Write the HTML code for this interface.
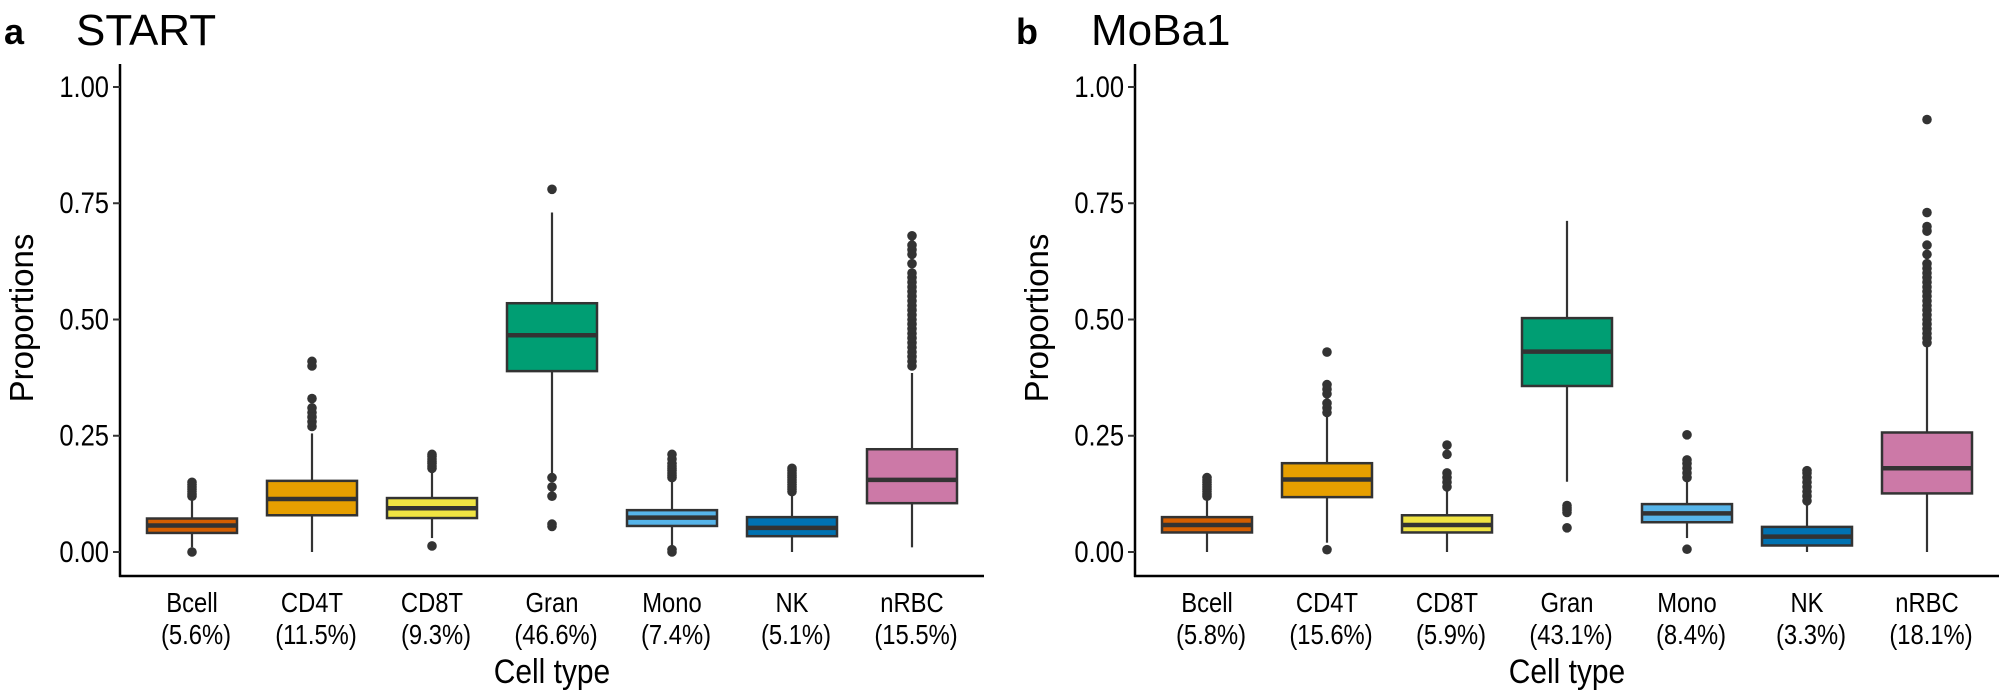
<!DOCTYPE html>
<html><head><meta charset="utf-8"><style>
html,body{margin:0;padding:0;background:#fff;}
svg{display:block;font-family:"Liberation Sans",sans-serif;}
</style></head><body>
<svg id="chart" width="1999" height="693" viewBox="0 0 1999 693">
<text x="4" y="44" font-size="36" font-weight="bold">a</text>
<text x="76" y="45" font-size="44">START</text>
<text x="1016" y="44" font-size="36" font-weight="bold">b</text>
<text x="1091" y="45" font-size="44">MoBa1</text>
</svg>
<script>
const categories = ["Bcell","CD4T","CD8T","Gran","Mono","NK","nRBC"];
const colors = ["#D55E00","#E69F00","#F0E442","#009E73","#56B4E9","#0072B2","#CC79A7"];
const yTicks = [0,0.25,0.5,0.75,1.0];
const yTickLabels = ["0.00","0.25","0.50","0.75","1.00"];
const startPct = ["5.6%","11.5%","9.3%","46.6%","7.4%","5.1%","15.5%"];
const startQ1 = [0.041,0.079,0.073,0.389,0.056,0.034,0.105];
const startMed = [0.057,0.114,0.094,0.466,0.074,0.052,0.155];
const startQ3 = [0.072,0.153,0.116,0.535,0.090,0.075,0.221];
const startLo = [0.01,0.0,0.03,0.17,0.012,0.0,0.01];
const startHi = [0.119,0.255,0.176,0.73,0.155,0.125,0.385];
const startOut = [
 [0.0,0.12,0.125,0.13,0.135,0.14,0.145,0.15],
 [0.27,0.28,0.29,0.30,0.31,0.33,0.40,0.41],
 [0.013,0.18,0.185,0.19,0.195,0.20,0.205,0.21],
 [0.055,0.06,0.12,0.14,0.16,0.78],
 [0.0,0.005,0.16,0.165,0.17,0.175,0.18,0.185,0.19,0.2,0.21],
 [0.13,0.135,0.14,0.145,0.15,0.155,0.16,0.165,0.17,0.175,0.18],
 [0.40,0.41,0.42,0.43,0.44,0.45,0.46,0.47,0.48,0.49,0.50,0.51,0.52,0.53,0.54,0.55,0.56,0.57,0.58,0.59,0.60,0.62,0.64,0.65,0.66,0.68]
];
const mobaPct = ["5.8%","15.6%","5.9%","43.1%","8.4%","3.3%","18.1%"];
const mobaQ1 = [0.042,0.118,0.042,0.357,0.064,0.014,0.126];
const mobaMed = [0.058,0.156,0.058,0.431,0.083,0.033,0.18];
const mobaQ3 = [0.075,0.191,0.079,0.503,0.103,0.054,0.257];
const mobaLo = [0.0,0.02,0.0,0.151,0.03,0.0,0.0];
const mobaHi = [0.115,0.295,0.137,0.712,0.155,0.105,0.449];
const mobaOut = [
 [0.12,0.125,0.13,0.135,0.14,0.145,0.15,0.155,0.16],
 [0.005,0.30,0.31,0.32,0.34,0.35,0.36,0.43],
 [0.14,0.15,0.16,0.17,0.21,0.23],
 [0.052,0.085,0.09,0.095,0.10],
 [0.006,0.16,0.17,0.18,0.19,0.198,0.252],
 [0.11,0.12,0.13,0.14,0.15,0.16,0.17,0.175],
 [0.45,0.46,0.47,0.48,0.49,0.50,0.51,0.52,0.53,0.54,0.55,0.56,0.57,0.58,0.59,0.60,0.61,0.62,0.64,0.66,0.69,0.70,0.73,0.93]
];
const svg = document.getElementById('chart');
const NS = "http://www.w3.org/2000/svg";
function mk(tag, attrs, parent){const e=document.createElementNS(NS,tag);for(const k in attrs)e.setAttribute(k,attrs[k]);(parent||svg).appendChild(e);return e;}
function yScale(v){return 552 - v*465;}
function drawPanel(id, ax, pct, q1, med, q3, lo, hi, out){
  const g = mk('g',{});
  
  
  const xScale = i => ax + 72 + i*120;
  const yl = mk('line',{x1:ax,y1:64,x2:ax,y2:577,stroke:'#000','stroke-width':2.5},g);
  
  
  const xl = mk('line',{x1:ax-1,y1:576,x2:ax+864,y2:576,stroke:'#000','stroke-width':2.5},g);
  
  
  yTicks.forEach((t,i)=>{
    mk('line',{x1:ax-7,y1:yScale(t),x2:ax,y2:yScale(t),stroke:'#333','stroke-width':2},g);
    const tx = mk('text',{x:(ax-11)/0.85,y:yScale(t)+10,'font-size':30,'text-anchor':'end',fill:'#000',transform:'scale(0.85,1)'},g);
    tx.textContent = yTickLabels[i];
    
    
  });
  const yt = mk('text',{x:0,y:0,'font-size':33,'text-anchor':'middle',transform:`translate(${ax-87},318) rotate(-90)`},g);
  yt.textContent = 'Proportions';
  
  
  const xt = mk('text',{x:(ax+432)/0.88,y:683,'font-size':34,'text-anchor':'middle',transform:'scale(0.88,1)'},g);
  xt.textContent = 'Cell type';
  
  
  categories.forEach((c,i)=>{
    const cx = xScale(i);
    const bg = mk('g',{},g);
    
    
    mk('line',{x1:cx,y1:yScale(hi[i]),x2:cx,y2:yScale(q3[i]),stroke:'#333','stroke-width':2.2},bg);
    mk('line',{x1:cx,y1:yScale(q1[i]),x2:cx,y2:yScale(lo[i]),stroke:'#333','stroke-width':2.2},bg);
    mk('rect',{x:cx-45,y:yScale(q3[i]),width:90,height:yScale(q1[i])-yScale(q3[i]),fill:colors[i],stroke:'#333','stroke-width':2.5},bg);
    mk('line',{x1:cx-45,y1:yScale(med[i]),x2:cx+45,y2:yScale(med[i]),stroke:'#333','stroke-width':4.5},bg);
    out[i].forEach(v=>{
      const d = mk('circle',{cx:cx,cy:yScale(v),r:4.8,fill:'#333'},bg);
      
      
    });
    const l1 = mk('text',{x:cx/0.85,y:612,'font-size':28,'text-anchor':'middle',transform:'scale(0.85,1)'},g);
    l1.textContent = c;
    
    
    const l2 = mk('text',{x:(cx+4)/0.85,y:644,'font-size':28,'text-anchor':'middle',transform:'scale(0.85,1)'},g);
    l2.textContent = '('+pct[i]+')';
    
    
  });
}
drawPanel('start', 120, startPct, startQ1, startMed, startQ3, startLo, startHi, startOut);
drawPanel('moba1', 1135, mobaPct, mobaQ1, mobaMed, mobaQ3, mobaLo, mobaHi, mobaOut);
</script>
</body></html>
